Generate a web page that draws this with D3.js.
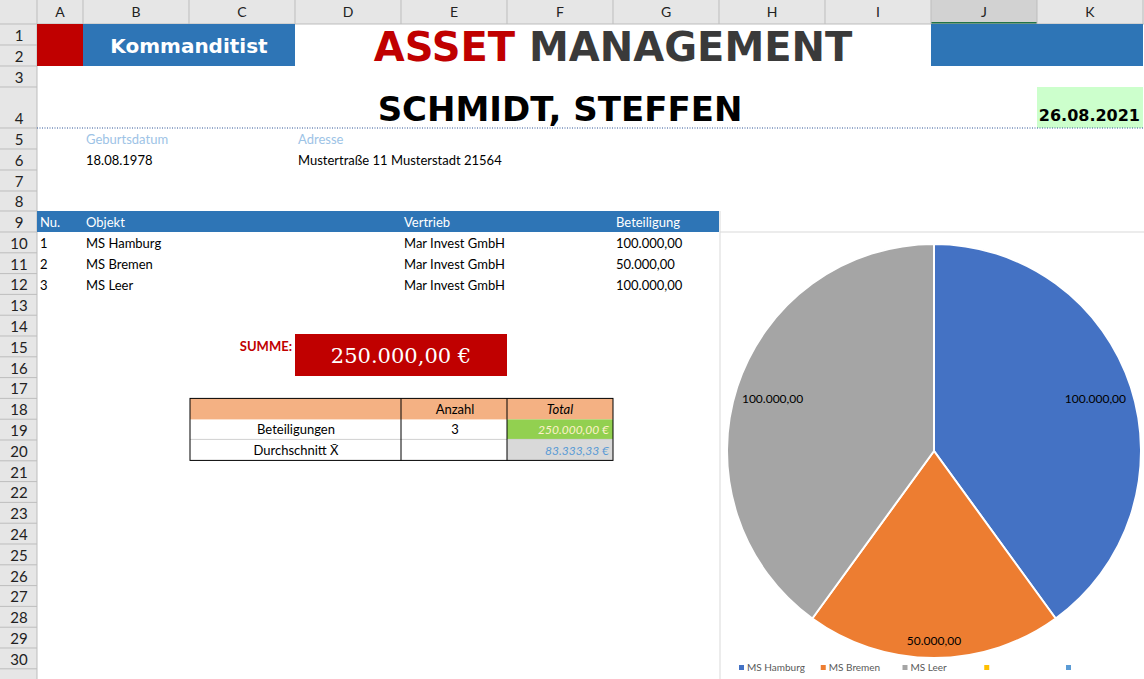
<!DOCTYPE html>
<html><head><meta charset="utf-8">
<script src="https://cdn.jsdelivr.net/npm/d3@7"></script>
<style>body{margin:0;background:#fff}svg{display:block}</style>
</head><body><div id="sheet"></div>
<script>
const colLetters = ['A','B','C','D','E','F','G','H','I','J','K']
const colEdges = [37,83,189,295,401,507,613,719,825,931,1037,1143]
const rowHeights = [21,21,21,41,21,21,21,20,21,20.8,20.8,20.8,20.8,20.8,20.8,20.8,20.8,20.8,20.8,20.8,20.8,20.8,20.8,20.8,20.8,20.8,20.8,20.8,20.8,20.8]
const objekte = ['MS Hamburg','MS Bremen','MS Leer']
const vertrieb = ['Mar Invest GmbH','Mar Invest GmbH','Mar Invest GmbH']
const beteiligung = [100000,50000,100000]
const sliceColors = ['#4472c4','#ed7d31','#a5a5a5']
const extraLegend = ['#ffc000','#5b9bd5']

const W = 1144, H = 679, font = 'Lato, "Open Sans", sans-serif'
const fmt = v => d3.format(',.2f')(v).replace(/,/g,'#').replace('.',',').replace(/#/g,'.')

var svg = d3.select('#sheet').append('svg').attr('width', W).attr('height', H).style('font-family', font)
var rowTop = [24]
rowHeights.forEach((h,i) => rowTop.push(rowTop[i] + h))
const rowY = r => rowTop[r-1]

svg.append('rect').attr('x',37).attr('y',24).attr('width',W-37).attr('height',H-24).style('fill','#fff')

// headers
svg.append('rect').attr('width',W).attr('height',24).style('fill','#e6e6e6')
svg.append('rect').attr('width',37).attr('height',H).style('fill','#e6e6e6')
svg.append('rect').attr('x',931).attr('width',106).attr('height',24).style('fill','#d2d2d2')
svg.append('line').attr('x1',931).attr('x2',1037).attr('y1',23).attr('y2',23).style('stroke','#217346').style('stroke-width',2)
colLetters.forEach((c,i) => {
	svg.append('text').text(c).attr('x',(colEdges[i]+colEdges[i+1])/2).attr('y',17).attr('text-anchor','middle').style('font-size','14px').style('fill','#222')
	svg.append('line').attr('x1',colEdges[i+1]).attr('x2',colEdges[i+1]).attr('y1',0).attr('y2',24).style('stroke','#bdbdbd')
})
rowHeights.forEach((h,i) => {
	svg.append('text').text(i+1).attr('x',19).attr('y',rowTop[i]+h-4).attr('text-anchor','middle').style('font-size','15px').style('fill','#222')
	svg.append('line').attr('x1',0).attr('x2',37).attr('y1',rowTop[i+1]).attr('y2',rowTop[i+1]).style('stroke','#bdbdbd')
})
svg.append('line').attr('x1',0).attr('x2',W).attr('y1',24).attr('y2',24).style('stroke','#bdbdbd')
svg.append('line').attr('x1',37).attr('x2',37).attr('y1',0).attr('y2',H).style('stroke','#bdbdbd')

// title block
svg.append('rect').attr('x',37).attr('y',24).attr('width',46).attr('height',42).style('fill','#c00000')
svg.append('rect').attr('x',83).attr('y',24).attr('width',212).attr('height',42).style('fill','#2e75b6')
svg.append('rect').attr('x',931).attr('y',24).attr('width',212).attr('height',42).style('fill','#2e75b6')
svg.append('text').text('Kommanditist').attr('x',189).attr('y',53).attr('text-anchor','middle')
	.style('font-family','"DejaVu Sans"').style('font-weight','bold').style('font-size','20px').style('fill','#fff')
var t = svg.append('text').attr('x',613).attr('y',61).attr('text-anchor','middle').style('font-family','"DejaVu Sans"').style('font-weight','bold').style('font-size','40px')
t.append('tspan').text('ASSET ').style('fill','#c00000')
t.append('tspan').text('MANAGEMENT').style('fill','#3a3a3a')
svg.append('text').text('SCHMIDT, STEFFEN').attr('x',560).attr('y',121).attr('text-anchor','middle')
	.style('font-family','"DejaVu Sans"').style('font-weight','bold').style('font-size','34px').style('fill','#000')
svg.append('rect').attr('x',1037).attr('y',87).attr('width',106).attr('height',41).style('fill','#ccffcc')
svg.append('text').text('26.08.2021').attr('x',1140).attr('y',121).attr('text-anchor','end')
	.style('font-family','"DejaVu Sans"').style('font-weight','bold').style('font-size','16px')
svg.append('line').attr('x1',37).attr('x2',W).attr('y1',128).attr('y2',128).style('stroke','#2e5597').style('stroke-dasharray','1,1.5')

svg.append('text').text('Geburtsdatum').attr('x',86).attr('y',144).style('font-size','13px').style('fill','#9dc3e6')
svg.append('text').text('Adresse').attr('x',298).attr('y',144).style('font-size','13px').style('fill','#9dc3e6')
svg.append('text').text('18.08.1978').attr('x',86).attr('y',165).style('font-size','13px')
svg.append('text').text('Mustertraße 11 Musterstadt 21564').attr('x',298).attr('y',165).style('font-size','13px')

// object table
svg.append('rect').attr('x',37).attr('y',rowY(9)).attr('width',682).attr('height',21).style('fill','#2e75b6')
;[['Nu.',40],['Objekt',86],['Vertrieb',404],['Beteiligung',616]].forEach(d =>
	svg.append('text').text(d[0]).attr('x',d[1]).attr('y',rowY(9)+16).style('font-size','13px').style('fill','#fff'))
objekte.forEach((o,i) => {
	let y = rowY(10+i) + 16
	svg.append('text').text(i+1).attr('x',40).attr('y',y).style('font-size','13px')
	svg.append('text').text(o).attr('x',86).attr('y',y).style('font-size','13px')
	svg.append('text').text(vertrieb[i]).attr('x',404).attr('y',y).style('font-size','13px')
	svg.append('text').text(fmt(beteiligung[i])).attr('x',616).attr('y',y).style('font-size','13px')
})

// summe
const total = d3.sum(beteiligung)
svg.append('text').text('SUMME:').attr('x',292).attr('y',351).attr('text-anchor','end').style('font-size','13px').style('font-weight','bold').style('fill','#c00000')
svg.append('rect').attr('x',295).attr('y',334).attr('width',212).attr('height',42).style('fill','#c00000')
svg.append('text').text(fmt(total) + ' €').attr('x',401).attr('y',363).attr('text-anchor','middle')
	.style('font-family','"DejaVu Serif"').style('font-size','21px').style('fill','#fff')

// summary table
const y18 = rowY(18)
svg.append('rect').attr('x',190).attr('y',y18).attr('width',423).attr('height',21).style('fill','#f4b183')
svg.append('rect').attr('x',507).attr('y',y18+21).attr('width',106).attr('height',20).style('fill','#92d050')
svg.append('rect').attr('x',507).attr('y',y18+41).attr('width',106).attr('height',21).style('fill','#d9d9d9')
svg.append('line').attr('x1',190).attr('x2',613).attr('y1',y18+41).attr('y2',y18+41).style('stroke','#d0d0d0')
svg.append('rect').attr('x',190).attr('y',y18).attr('width',423).attr('height',62).style('fill','none').style('stroke','#000')
;[401,507].forEach(x => svg.append('line').attr('x1',x).attr('x2',x).attr('y1',y18).attr('y2',y18+62).style('stroke','#000'))
svg.append('text').text('Anzahl').attr('x',455).attr('y',y18+16).attr('text-anchor','middle').style('font-size','13px')
svg.append('text').text('Total').attr('x',560).attr('y',y18+16).attr('text-anchor','middle').style('font-size','13px').style('font-style','italic')
svg.append('text').text('Beteiligungen').attr('x',296).attr('y',y18+36).attr('text-anchor','middle').style('font-size','13px')
svg.append('text').text('Durchschnitt  X̄').attr('x',296).attr('y',y18+57).attr('text-anchor','middle').style('font-size','13px')
svg.append('text').text(objekte.length).attr('x',455).attr('y',y18+36).attr('text-anchor','middle').style('font-size','13px')
svg.append('text').text(fmt(total) + ' €').attr('x',609).attr('y',y18+36).attr('text-anchor','end').style('font-size','12px').style('font-style','italic').style('fill','#fff2cc')
svg.append('text').text(fmt(total / objekte.length) + ' €').attr('x',609).attr('y',y18+57).attr('text-anchor','end').style('font-size','12px').style('font-style','italic').style('fill','#5b9bd5')

// chart area
svg.append('line').attr('x1',720).attr('x2',720).attr('y1',211).attr('y2',H).style('stroke','#d9d9d9')
svg.append('line').attr('x1',720).attr('x2',W).attr('y1',232).attr('y2',232).style('stroke','#d9d9d9')
const cx = 934, cy = 451, r = 207
var pie = d3.pie().sort(null)
var arc = d3.arc().innerRadius(0).outerRadius(r)
var gp = svg.append('g').attr('transform','translate(' + cx + ',' + cy + ')')
var arcs = pie(beteiligung)
gp.selectAll('path').data(arcs).enter().append('path').attr('d', arc)
	.style('fill', (d,i) => sliceColors[i]).style('stroke','#fff').style('stroke-width',2)
var labelArc = d3.arc().innerRadius(r*0.82).outerRadius(r*0.82)
gp.selectAll('.lbl').data(arcs).enter().append('text').attr('class','lbl')
	.text(d => fmt(d.value))
	.attr('x', d => labelArc.centroid(d)[0])
	.attr('y', d => {
		let p = labelArc.centroid(d)
		return p[1] + (Math.abs(p[0]) < 60 ? 20 : 0)
	})
	.attr('dy','0.35em')
	.attr('text-anchor','middle').style('font-size','12px').style('fill','#000')

// legend
var legColors = sliceColors.concat(extraLegend)
var leg = objekte.concat(['',''])
var lx = d3.scalePoint().domain(d3.range(leg.length)).range([739, 1066])
leg.forEach((l,i) => {
	svg.append('rect').attr('x',lx(i)).attr('y',665).attr('width',5).attr('height',5).style('fill',legColors[i])
	svg.append('text').text(l).attr('x',lx(i)+8).attr('y',671).style('font-size','10px').style('fill','#595959')
})
</script></body></html>
